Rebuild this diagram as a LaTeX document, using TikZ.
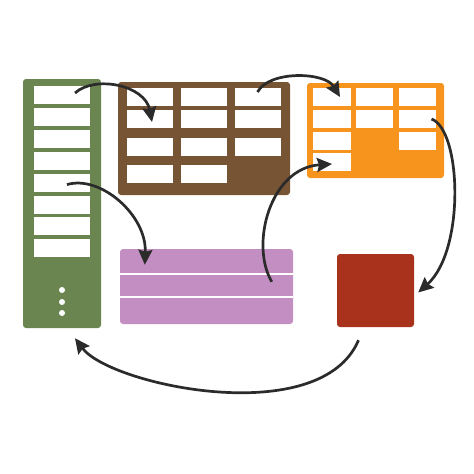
\documentclass[tikz,border=0pt]{standalone}
\usetikzlibrary{arrows.meta,calc}
\definecolor{leaf}{HTML}{6B8550}
\definecolor{bark}{HTML}{765434}
\definecolor{amber}{HTML}{F7941D}
\definecolor{lilac}{HTML}{C38FC2}
\definecolor{rust}{HTML}{A8321C}
\definecolor{ink}{HTML}{2B2B2B}
\begin{document}
\begin{tikzpicture}[x=1pt,y=-1pt,
	panel/.style={rectangle,rounded corners=3pt,inner sep=0pt},
	cell/.style={rectangle,fill=white,inner sep=0pt,minimum height=18pt},
	arr/.style={draw=ink,line width=2.7pt,-{Stealth[length=15pt,width=14pt,inset=2pt]}}]
	\useasboundingbox (0,0) rectangle (474,474);
	% green column
	\node[panel,fill=leaf,minimum width=78pt,minimum height=249pt] (gcol) at (62,203.5) {};
	\foreach \i in {1,...,8}
		\node[cell,minimum width=56pt] (g\i) at (62,{95+21.9*(\i-1)}) {};
	\foreach \i/\y in {1/290,2/302,3/313}
		\node[circle,fill=white,inner sep=0pt,minimum size=6pt] (dot\i) at (62,\y) {};
	% brown table
	\node[panel,fill=bark,minimum width=172pt,minimum height=113pt] (btab) at (204,138.5) {};
	\foreach \r/\y in {1/97,2/119,3/147}
		\foreach \c/\x in {1/150,2/203.5,3/257.5}
			\node[cell,minimum width=46pt] (b\r\c) at (\x,\y) {};
	\node[cell,minimum width=46pt] (b41) at (150,174) {};
	\node[cell,minimum width=46pt] (b42) at (203.5,174) {};
	% orange table
	\node[panel,fill=amber,minimum width=137pt,minimum height=95pt] (otab) at (375.5,130.5) {};
	\foreach \r/\y in {1/97,2/119}
		\foreach \c/\x in {1/332,2/374.5,3/417.5}
			\node[cell,minimum width=37.5pt] (o\r\c) at (\x,\y) {};
	\node[cell,minimum width=37.5pt] (o31) at (332,140.5) {};
	\node[cell,minimum width=37.5pt] (o33) at (417.5,140.5) {};
	\node[cell,minimum width=37.5pt] (o41) at (332,162) {};
	% purple block
	\node[panel,fill=lilac,minimum width=173pt,minimum height=75pt] (p) at (206.5,286.5) {};
	\draw[white,line width=1.5pt] (p.west |- 0,274) -- (p.east |- 0,274);
	\draw[white,line width=1.5pt] (p.west |- 0,297) -- (p.east |- 0,297);
	\coordinate (pin) at ($(p.north west)+(25,16)$);
	\coordinate (pout) at ($(p.north west)+(152,33)$);
	% red block
	\node[panel,fill=rust,minimum width=77pt,minimum height=73pt] (r) at (375.5,290.5) {};
	% arrows
	\draw[arr] ($(g1.center)+(13,-2)$) .. controls +(20,-18) and +(-7,-37) .. ($(b21.center)+(2,3)$);
	\draw[arr] ($(g5.center)+(5,2)$) .. controls +(33,-10) and +(2,-50) .. (pin);
	\draw[arr] ($(b13.center)+(0,-5)$) .. controls +(12,-22) and +(-15,-25) .. ($(o11.center)+(8,0)$);
	\draw[arr] (pout) .. controls +(-22,-37) and +(-62,4) .. ($(o41.center)+(0,2)$);
	\draw[arr] ($(o23.center)+(14,0)$) .. controls +(30,11) and +(47,-42) .. ($(r.east)+(4,2)$);
	\draw[arr] ($(r.south)+(-17,13)$) .. controls +(-38,90) and +(35,47) .. ($(gcol.south)+(13,10)$);
\end{tikzpicture}
\end{document}
